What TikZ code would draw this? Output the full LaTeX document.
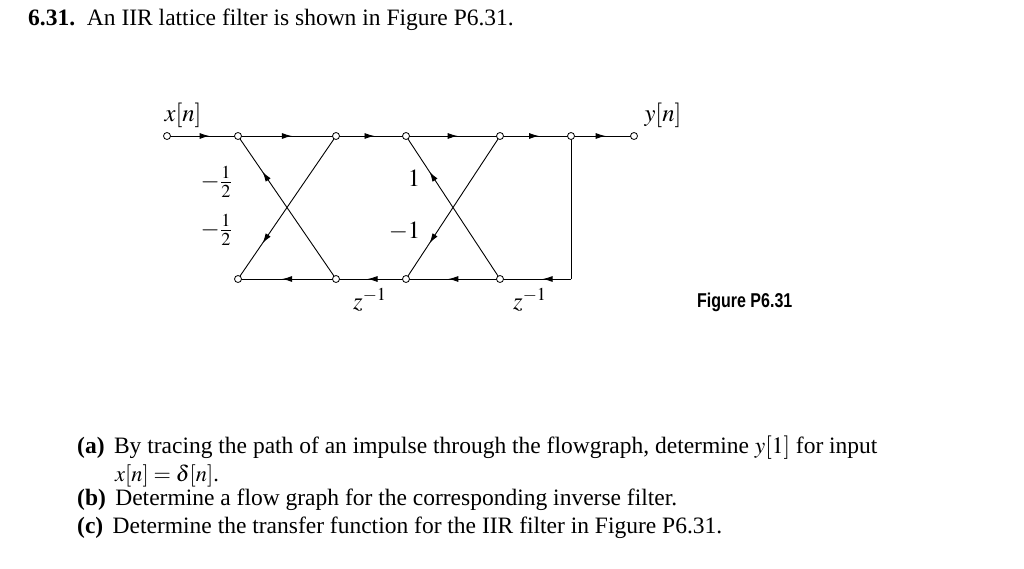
\documentclass[tikz,border=0pt]{standalone}
\usepackage{mathptmx}
\usepackage{fontspec}
\setmainfont{Liberation Serif}
\newfontfamily\figfont{Liberation Sans}
\usetikzlibrary{decorations.markings,arrows.meta}
\begin{document}
\begin{tikzpicture}[x=1pt,y=-1pt,
  nd/.style={circle,draw,fill=white,inner sep=0pt,minimum size=7pt,line width=0.8pt},
  br/.style={line width=0.9pt,postaction={decorate},decoration={markings,mark=at position #1 with {\arrow{Latex[length=10pt,width=6pt]}}}},
  br/.default=0.55,
  lbl/.style={inner sep=1pt,scale=1.45,font=\fontsize{17}{19}\selectfont},
  txt/.style={anchor=west,inner sep=0pt,font=\fontsize{23.5}{26}\selectfont}]
\useasboundingbox (0,0) rectangle (1024,568);
% text
\node[txt] (title) at (28,20) {\textbf{6.31.}\hspace{0.5em}An IIR lattice filter is shown in Figure P6.31.};
\node[txt] (qa) at (77,448) {\textbf{(a)}\hspace{0.4em}By tracing the path of an impulse through the flowgraph, determine $y[1]$ for input};
\node[txt,scale=0.95] (qa2) at (115,476) {$x[n]=\delta[n]$.};
\node[txt] (qb) at (77,500) {\textbf{(b)}\hspace{0.4em}Determine a flow graph for the corresponding inverse filter.};
\node[txt] (qc) at (77,528) {\textbf{(c)}\hspace{0.4em}Determine the transfer function for the IIR filter in Figure P6.31.};
\node[anchor=west,inner sep=0pt,font=\figfont\bfseries\fontsize{20}{22}\selectfont,xscale=0.8] (cap) at (697,302) {Figure P6.31};
% coordinates
\coordinate (c) at (571,279);
\foreach \n/\x in {in/167,t1/238,t2/336,t3/406,t4/500,t5/571,out/634} \coordinate (\n) at (\x,136);
\foreach \n/\x in {b1/238,b2/336,b3/406,b4/500} \coordinate (\n) at (\x,279);
% branches
\draw[br=0.6] (in) -- (t1);
\draw[br] (t1) -- (t2);
\draw[br] (t2) -- (t3);
\draw[br] (t3) -- (t4);
\draw[br] (t4) -- (t5);
\draw[br] (t5) -- (out);
\draw[line width=0.9pt] (t5) -- (c);
\draw[br=0.4] (c) -- (b4);
\draw[br] (b4) -- (b3);
\draw[br] (b3) -- (b2);
\draw[br] (b2) -- (b1);
\draw[br=0.75] (b2) -- (t1);
\draw[br=0.75] (t2) -- (b1);
\draw[br=0.75] (b4) -- (t3);
\draw[br=0.75] (t4) -- (b3);
% circles
\foreach \n in {in,t1,t2,t3,t4,t5,out,b1,b2,b3,b4} \node[nd] at (\n) {};
% labels
\node[lbl] (lx) at (183,115) {$x[n]$};
\node[lbl] (ly) at (663,115) {$y[n]$};
\node[lbl,anchor=east] (l1) at (234,182) {$-\frac{1}{2}$};
\node[lbl,anchor=east] (l2) at (234,230) {$-\frac{1}{2}$};
\node[lbl,anchor=east] (l3) at (422,178) {$1$};
\node[lbl,anchor=east] (l4) at (422,231) {$-1$};
\node[lbl] (z1) at (370,300) {$z^{-1}$};
\node[lbl] (z2) at (530,300) {$z^{-1}$};
\end{tikzpicture}
\end{document}
